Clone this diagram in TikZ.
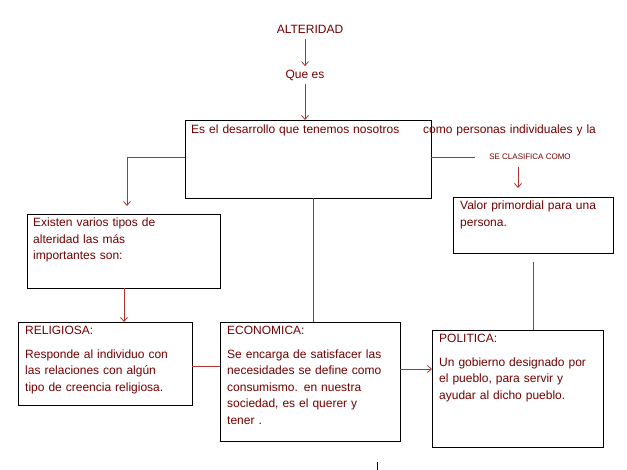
\documentclass[tikz,border=0pt]{standalone}
\usepackage{fontspec}
\setmainfont{Liberation Sans}
\usetikzlibrary{arrows.meta}
\newcommand\jl[1]{\hbox to \linewidth{#1}}
\begin{document}
\begin{tikzpicture}[x=1pt,y=-1pt,
  txt/.style={text=red!45!black,font=\fontsize{12}{16.5}\selectfont},
  bx/.style={draw=black,line width=0.9pt,fill=white},
  btxt/.style={txt,anchor=north west,align=left,inner sep=0pt},
  ln/.style={draw=red!60!black!80,line width=0.8pt},
  ar/.style={ln,-{Straight Barb[length=4pt,width=7pt]}}]
\useasboundingbox (0,0) rectangle (627,470);
\node[txt] (alt) at (310,29) {ALTERIDAD};
\node[txt] (que) at (305,75) {Que es};
\draw[ar] (305,39) -- (que.north);
% main
\draw[bx] (185,120) rectangle (431,198);
\coordinate (mainT) at (305,120);
\draw[ar] (que.south) -- (mainT);
\node[btxt,text width=232pt] (main) at (191,124) {\jl{Es el desarrollo que tenemos nosotros}\jl{como personas individuales y la}\jl{socialización con los seres que nos}rodean.};
% left branch
\coordinate (mL) at (185,157);
\coordinate (lc) at (127,157);
\coordinate (lb) at (127,206);
\draw[ln] (mL) -- (lc);
\draw[ar] (lc) -- (lb);
% right branch
\coordinate (mR) at (431,157);
\coordinate (rc) at (475,157);
\draw[ln] (mR) -- (rc);
\node[txt,font=\fontsize{8}{9}\selectfont] (sc) at (530,157) {SE CLASIFICA COMO};
\coordinate (vT) at (518,188);
\draw[ar] (518,167) -- (vT);
\draw[bx] (453,197) rectangle (613,253);
\node[btxt,text width=150pt] (valor) at (460,201) {Valor primordial para una\\persona.};
% existen
\draw[bx] (27,214) rectangle (220,288);
\node[btxt,text width=185pt] (exist) at (33,218) {Existen varios tipos de\\alteridad las más\\importantes son:};
\coordinate (eB) at (124,288);
\coordinate (rT) at (124,322);
\draw[ar] (eB) -- (rT);
% religiosa
\draw[bx] (18,322) rectangle (192,405);
\node[btxt,text width=162pt] (rel) at (25,326) {RELIGIOSA:\\[7pt]\jl{Responde al individuo con}\jl{las relaciones con algún}tipo de creencia religiosa.};
% economica
\draw[bx] (220,322) rectangle (400,441);
\node[btxt,text width=166pt] (eco) at (227,326) {ECONOMICA:\\[7pt]\jl{Se encarga de satisfacer las}\jl{necesidades se define como}\jl{consumismo. en nuestra}\jl{sociedad, es el querer y}tener .};
\coordinate (mB) at (313,198);
\coordinate (eT) at (313,322);
\draw[ln] (mB) -- (eT);
\coordinate (rR) at (192,366);
\coordinate (eL) at (220,366);
\draw[ln] (rR) -- (eL);
% politica
\draw[bx] (432,330) rectangle (603,447);
\node[btxt,text width=158pt] (pol) at (439,334) {POLITICA:\\[7pt]\jl{Un gobierno designado por}\jl{el pueblo, para servir y}ayudar al dicho pueblo.};
\coordinate (eR) at (400,369);
\coordinate (pL) at (432,369);
\draw[ar] (eR) -- (pL);
\coordinate (vB) at (533,262);
\coordinate (pT) at (533,330);
\draw[ln] (vB) -- (pT);
\draw[black,line width=0.8pt] (377,462) -- (377,470);
\end{tikzpicture}
\end{document}
